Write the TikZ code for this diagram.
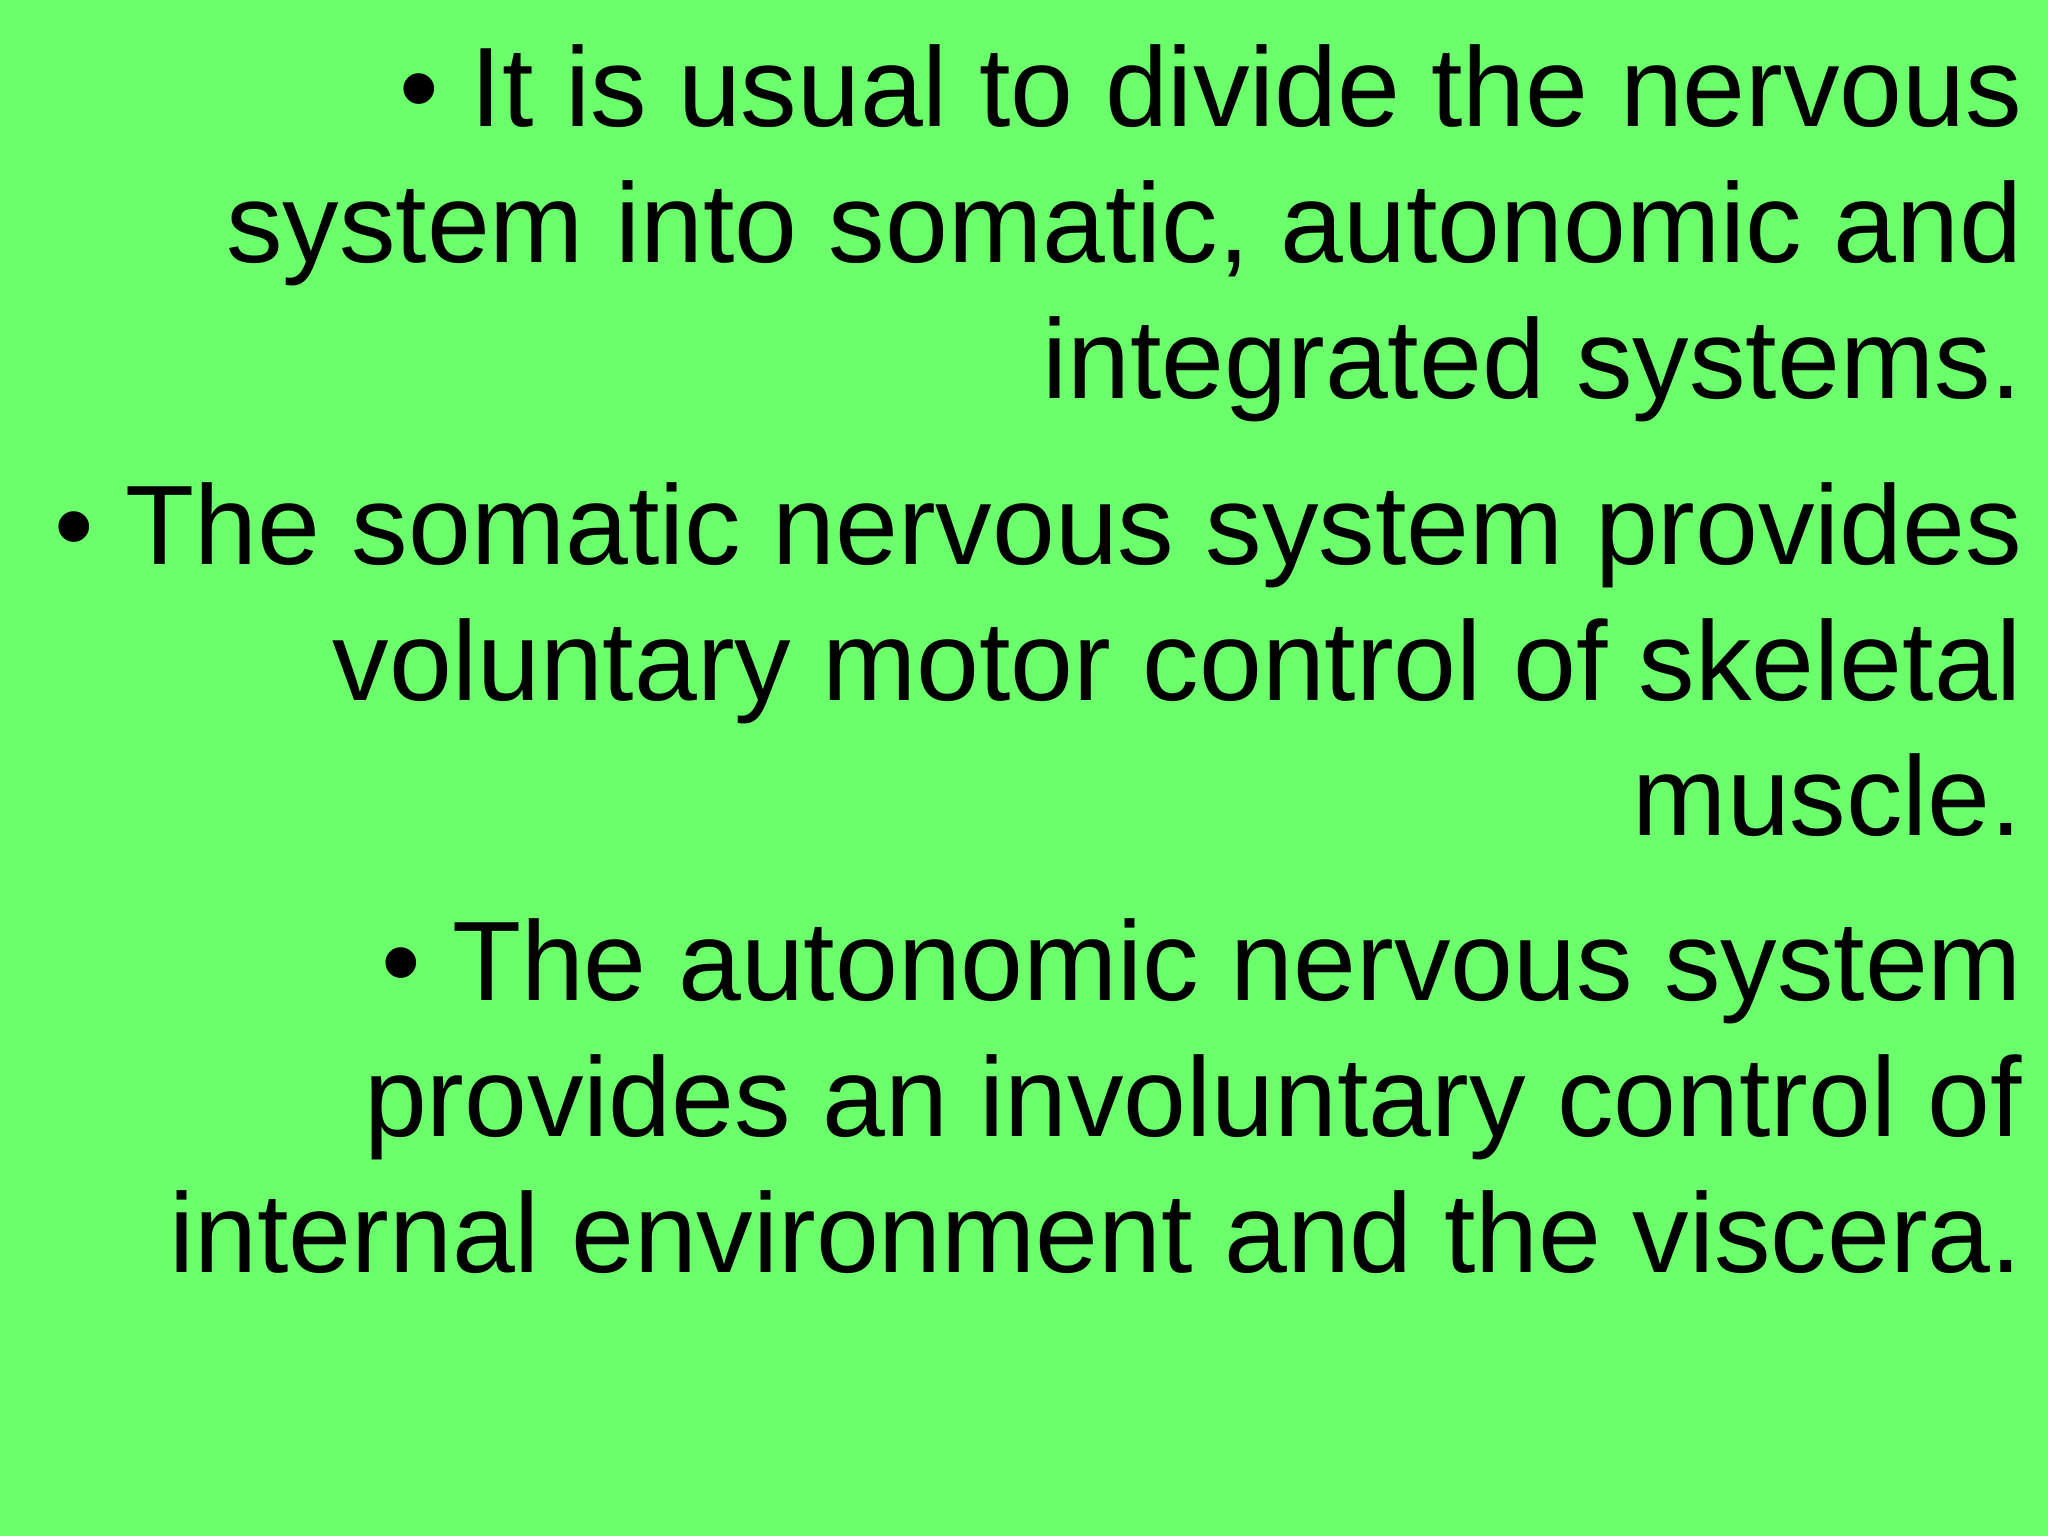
\documentclass[tikz,border=0pt]{standalone}
\usepackage{fontspec}
\setmainfont{Liberation Sans}
\usetikzlibrary{positioning}
\definecolor{slidegreen}{HTML}{6CFF6C}
\begin{document}
\begin{tikzpicture}[x=0.01cm,y=-0.01cm,
  slideline/.style={anchor=base east,inner sep=0pt,font=\fontsize{24.6pt}{29pt}\selectfont,text=black}
]
  % ---- background --------------------------------------------
  \fill[slidegreen] (0,0) rectangle (1568,1176);
  \useasboundingbox (0,0) rectangle (1568,1176);

  % ---- text lines, right aligned -----------------------------
  \foreach \y/\txt/\nm in {
      97/{\textbullet\ It is usual to divide the nervous}/la,
      201/{system into somatic, autonomic and}/lb,
      305/{integrated systems.\hspace{0.7em}}/lc,
      432/{\textbullet\ The somatic nervous system provides}/ld,
      536/{voluntary motor control of skeletal}/le,
      640/{muscle.}/lf,
      766/{\textbullet\ The autonomic nervous system}/lg,
      870/{provides an involuntary control of}/lh,
      974/{internal environment and the viscera.\hspace{0.7em}}/li}
    \node[slideline] (\nm) at (1549,\y) {\txt};
\end{tikzpicture}
\end{document}
